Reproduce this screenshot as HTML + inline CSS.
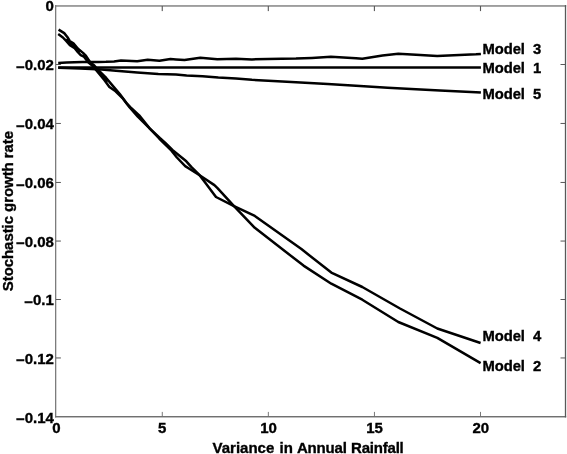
<!DOCTYPE html>
<html><head><meta charset="utf-8"><title>Stochastic growth rate vs variance in annual rainfall</title>
<style>
html,body{margin:0;padding:0;background:#fff;}
body{width:567px;height:454px;overflow:hidden;}
svg{display:block;}
text{font-family:"Liberation Sans",Arial,Helvetica,sans-serif;font-weight:bold;fill:#000;stroke:#000;stroke-width:0.35px;white-space:pre;}
.t{font-size:15px;}
.c{stroke:#000;stroke-width:2.5;fill:none;stroke-linejoin:round;stroke-linecap:butt;}
</style></head>
<body>
<svg width="567" height="454" viewBox="0 0 567 454">
<rect x="0" y="0" width="567" height="454" fill="#fff"/>
<!-- axes box -->
<rect x="55" y="5.1" width="511.2" height="1.7" fill="#939393"/>
<rect x="55" y="5.1" width="1.3" height="412.3" fill="#7c7c7c"/>
<rect x="55" y="416" width="511.2" height="1.45" fill="#707070"/>
<rect x="564.85" y="5.1" width="1.3" height="412.3" fill="#585858"/>
<!-- ticks -->
<g fill="#585858">
<rect x="161.70" y="6" width="1.1" height="5.1"/><rect x="161.80" y="411.9" width="0.9" height="4.6" fill="#6a6a6a"/>
<rect x="267.75" y="6" width="1.1" height="5.1"/><rect x="267.85" y="411.9" width="0.9" height="4.6" fill="#6a6a6a"/>
<rect x="373.85" y="6" width="1.1" height="5.1"/><rect x="373.95" y="411.9" width="0.9" height="4.6" fill="#6a6a6a"/>
<rect x="479.95" y="6" width="1.1" height="5.1"/><rect x="480.05" y="411.9" width="0.9" height="4.6" fill="#6a6a6a"/>
<rect x="56" y="64.00" width="4.9" height="1"/><rect x="560.5" y="64.00" width="5" height="1"/>
<rect x="56" y="122.95" width="4.9" height="1"/><rect x="560.5" y="122.95" width="5" height="1"/>
<rect x="56" y="181.95" width="4.9" height="1"/><rect x="560.5" y="181.95" width="5" height="1"/>
<rect x="56" y="240.55" width="4.9" height="1"/><rect x="560.5" y="240.55" width="5" height="1"/>
<rect x="56" y="299.00" width="4.9" height="1"/><rect x="560.5" y="299.00" width="5" height="1"/>
<rect x="56" y="357.45" width="4.9" height="1"/><rect x="560.5" y="357.45" width="5" height="1"/>
</g>
<!-- y tick labels -->
<g class="t" text-anchor="end">
<text x="53.9" y="11.3">0</text>
<text x="53.9" y="70.3"><tspan dy="1.4">−</tspan><tspan dy="-1.4">0.02</tspan></text>
<text x="53.9" y="129.3"><tspan dy="1.4">−</tspan><tspan dy="-1.4">0.04</tspan></text>
<text x="53.9" y="188.3"><tspan dy="1.4">−</tspan><tspan dy="-1.4">0.06</tspan></text>
<text x="53.9" y="246.9"><tspan dy="1.4">−</tspan><tspan dy="-1.4">0.08</tspan></text>
<text x="53.9" y="305.4"><tspan dy="1.4">−</tspan><tspan dy="-1.4">0.1</tspan></text>
<text x="53.9" y="363.8"><tspan dy="1.4">−</tspan><tspan dy="-1.4">0.12</tspan></text>
<text x="53.9" y="422.5"><tspan dy="1.4">−</tspan><tspan dy="-1.4">0.14</tspan></text>
</g>
<!-- x tick labels -->
<g class="t" text-anchor="middle">
<text x="56.5" y="433.45">0</text>
<text x="162.2" y="433.45">5</text>
<text x="268.6" y="433.45">10</text>
<text x="374.6" y="433.45">15</text>
<text x="480.8" y="433.45">20</text>
</g>
<text class="t" x="212.6" y="452.9" xml:space="preserve">Variance<tspan dx="1"> in </tspan><tspan style="letter-spacing:-0.2px">Annual</tspan><tspan dx="0.4" style="letter-spacing:-0.2px"> Rainfall</tspan></text>
<text class="t" transform="translate(13.2 211.1) rotate(-90)" text-anchor="middle" style="letter-spacing:-0.065px">Stochastic growth rate</text>
<!-- curves -->
<path class="c" d="M58.2 67.6H480.9"/>
<path class="c" d="M58.2 67.8L80 68.4L101.5 69.5L116 70.8L137.2 72.4L158.3 73.9L176 74.6L186.6 75.5L202.5 76.2L218.3 77.6L236 78.6L251.9 79.8L273 80.9L296 82.3L327.7 84.1L356 85.7L387.7 87.7L416 89.2L440 90.4L476 92.2L480.9 92.6"/>
<path class="c" d="M58.2 62.9L66.6 62.4L82.5 62.1L98.3 61.9L106 61.8L114 61.4L121 60.6L137.2 61.3L147.7 59.8L159.4 60.8L170.5 59L176 59.4L184.5 60L200.3 57.8L217.3 59.3L236 58.8L251.9 59.4L267.7 58.9L296 58.6L311.9 57.9L330.9 56.7L356 58.3L362.3 58.7L382.5 55.6L398.3 53.7L416 54.8L437.2 56.1L476 54.3L480.9 53.9"/>
<!-- Model 4 -->
<path class="c" d="M58.6 29.6L64.2 33.1L67.5 37.2L69.7 41L73.4 43.2L78 48.7L83.3 53.1L85.5 55.3L88.5 59.7L90.4 62.4L94.3 65.5L97.6 69.3L106.2 78L112.4 85.4L119.8 94L127.2 103.9L130.3 107.1L139.2 115.4L149.6 128.3L159.8 137.9L165.6 143.1L172.4 149.9L179.8 156L186.3 161.3L191.5 167.2L199.6 175.2L205.7 183.2L216 197L234 206.1L254.8 215.9L301.4 249.1L331.3 272.6L362.3 287L400 308.5L437.3 328.5L480.6 343"/>
<path class="c" d="M66.8 38.6L69.9 43.2L73.9 45.4L78 50.4L80 52"/>
<path class="c" d="M96.6 69.3L104.4 78L107.4 81.8"/>
<!-- Model 2 -->
<path class="c" d="M58.2 34L62.9 37.5L66.4 41.2L69.9 45.2L74.3 47.8L77.9 52.2L80.7 55.1L83.8 56.5L86.7 60.3L88.5 62.6L93.4 66.6L98.3 72.8L104.5 80.2L109.4 87L115.6 91.3L123 98.7L129.7 107.5L137.8 116.6L149.6 128.3L159.2 138.5L171.5 150.7L176.9 157.5L185.2 166.1L189.7 169L199.6 175.2L214.4 185.1L217.5 188.1L234 206.1L254.8 227.8L303.5 265.6L331.3 283.7L362.3 299.7L398.3 322L437.3 337.8L480.6 363.1"/>
<!-- curve labels -->
<g class="t" style="font-size:14.8px;letter-spacing:-0.08px">
<text x="482.5" y="53.8" xml:space="preserve">Model  3</text>
<text x="482.5" y="73.3" xml:space="preserve">Model  1</text>
<text x="482.5" y="98.6" xml:space="preserve">Model  5</text>
<text x="482.5" y="340.9" xml:space="preserve">Model  4</text>
<text x="482.5" y="370.6" xml:space="preserve">Model  2</text>
</g>
</svg>
</body></html>
